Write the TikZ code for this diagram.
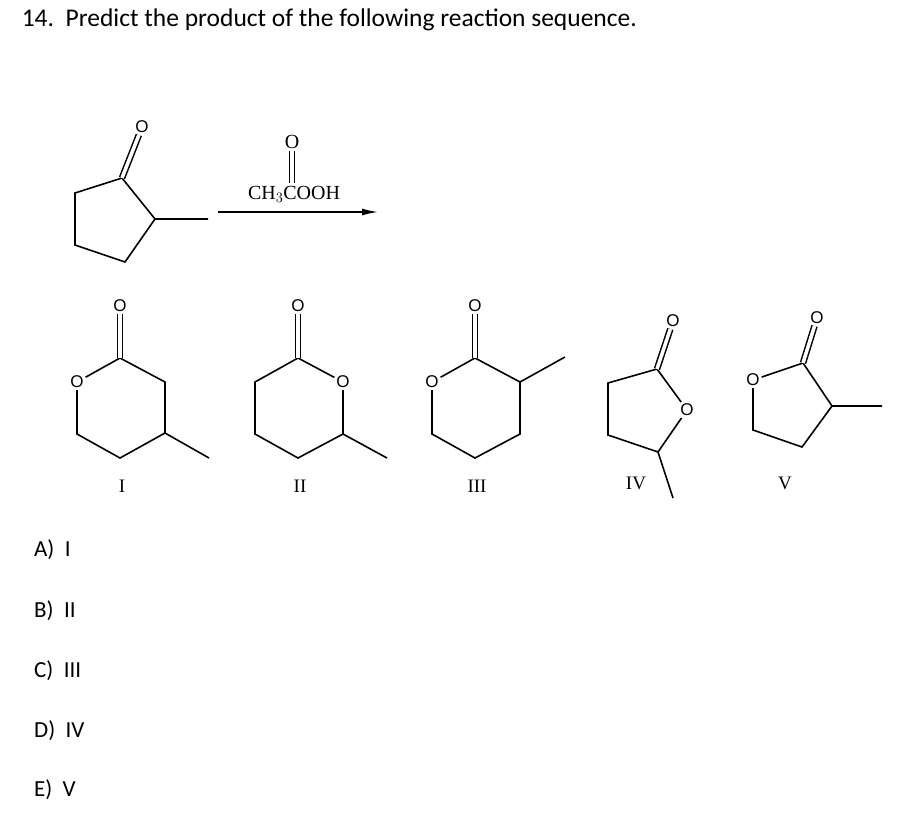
\documentclass[tikz,border=0pt]{standalone}
\usepackage{fontspec}
\usetikzlibrary{arrows.meta}
\setmainfont{Liberation Serif}
\newfontfamily\calfont{Carlito}
\newfontfamily\arfont{Liberation Sans}
\begin{document}
\begin{tikzpicture}[x=1pt,y=-1pt,line width=1.6pt,
  atom/.style={font=\arfont\fontsize{17}{17}\selectfont,inner sep=1.2pt},
  dbl/.style={double,double distance=3.6pt,line width=1.5pt},
  lab/.style={font=\fontsize{19}{19}\selectfont},
  opt/.style={font=\calfont\fontsize{23}{23}\selectfont,anchor=west}]
\useasboundingbox (0,0) rectangle (920,812);
\node[font=\calfont\fontsize{25.5}{25.5}\selectfont,anchor=base west,inner sep=0pt] (title) at (21,26) {14.\ \ Predict the product of the following reaction sequence.};
% starting material
\coordinate (s1) at (122,178); \coordinate (s2) at (155,219); \coordinate (s3) at (125,262);
\coordinate (s4) at (75,245); \coordinate (s5) at (75,193); \coordinate (sm) at (208,219);
\node[atom] (so) at (142,127) {O};
\draw (s1)--(s2)--(s3)--(s4)--(s5)--cycle (s2)--(sm);
\draw[dbl] (s1)--(so);
% arrow
\coordinate (a1) at (218,212); \coordinate (a2) at (378,212);
\draw[-{Latex[length=16pt,width=7pt]},line width=1.5pt] (a1)--(a2);
\node[font=\fontsize{20}{20}\selectfont] (reag) at (294,194) {CH$_3$COOH};
\node[atom,font=\fontsize{20}{20}\selectfont] (ro) at (292,142) {O};
\coordinate (rc) at (292,183);
\draw[dbl] (ro)--(rc);
% I
\coordinate (i1) at (120,358); \node[atom] (io) at (77,382) {O}; \coordinate (i2) at (77,434);
\coordinate (i3) at (120,458); \coordinate (i4) at (165,433); \coordinate (i5) at (165,382);
\coordinate (im) at (209,458); \node[atom] (ioo) at (120,306) {O};
\draw (i1)--(io)--(i2)--(i3)--(i4)--(i5)--(i1) (i4)--(im);
\draw[dbl] (i1)--(ioo);
\node[lab] (l1) at (122,486) {I};
% II
\coordinate (j1) at (298,358); \node[atom] (jo) at (343,382) {O}; \coordinate (j2) at (343,434);
\coordinate (j3) at (298,458); \coordinate (j4) at (255,434); \coordinate (j5) at (255,382);
\coordinate (jm) at (387,458); \node[atom] (joo) at (298,306) {O};
\draw (j1)--(jo)--(j2)--(j3)--(j4)--(j5)--(j1) (j2)--(jm);
\draw[dbl] (j1)--(joo);
\node[lab] (l2) at (300,486) {II};
% III
\coordinate (k1) at (475,358); \node[atom] (ko) at (432,382) {O}; \coordinate (k2) at (432,434);
\coordinate (k3) at (475,458); \coordinate (k4) at (520,434); \coordinate (k5) at (520,382);
\coordinate (km) at (565,357); \node[atom] (koo) at (475,306) {O};
\draw (k1)--(ko)--(k2)--(k3)--(k4)--(k5)--(k1) (k5)--(km);
\draw[dbl] (k1)--(koo);
\node[lab] (l3) at (477,486) {III};
% IV
\coordinate (m1) at (657,369); \node[atom] (mo) at (687,410) {O}; \coordinate (m2) at (658,452);
\coordinate (m3) at (608,435); \coordinate (m4) at (608,383); \coordinate (mm) at (673,498);
\node[atom] (moo) at (673,321) {O};
\draw (m1)--(mo)--(m2)--(m3)--(m4)--(m1) (m2)--(mm);
\draw[dbl] (m1)--(moo);
\node[lab] (l4) at (636,483) {IV};
% V
\coordinate (v1) at (803,363); \node[atom] (vo) at (753,380) {O}; \coordinate (v2) at (753,430);
\coordinate (v3) at (802,447); \coordinate (v4) at (832,406); \coordinate (vm) at (882,406);
\node[atom] (voo) at (817,318) {O};
\draw (v1)--(vo)--(v2)--(v3)--(v4)--(v1) (v4)--(vm);
\draw[dbl] (v1)--(voo);
\node[lab] (l5) at (785,483) {V};
% options
\node[opt] (A) at (30,550) {A)\ \ I};
\node[opt] (B) at (30,611) {B)\ \ II};
\node[opt] (C) at (30,671) {C)\ \ III};
\node[opt] (D) at (30,731) {D)\ \ IV};
\node[opt] (E) at (30,790) {E)\ \ V};
\end{tikzpicture}
\end{document}
